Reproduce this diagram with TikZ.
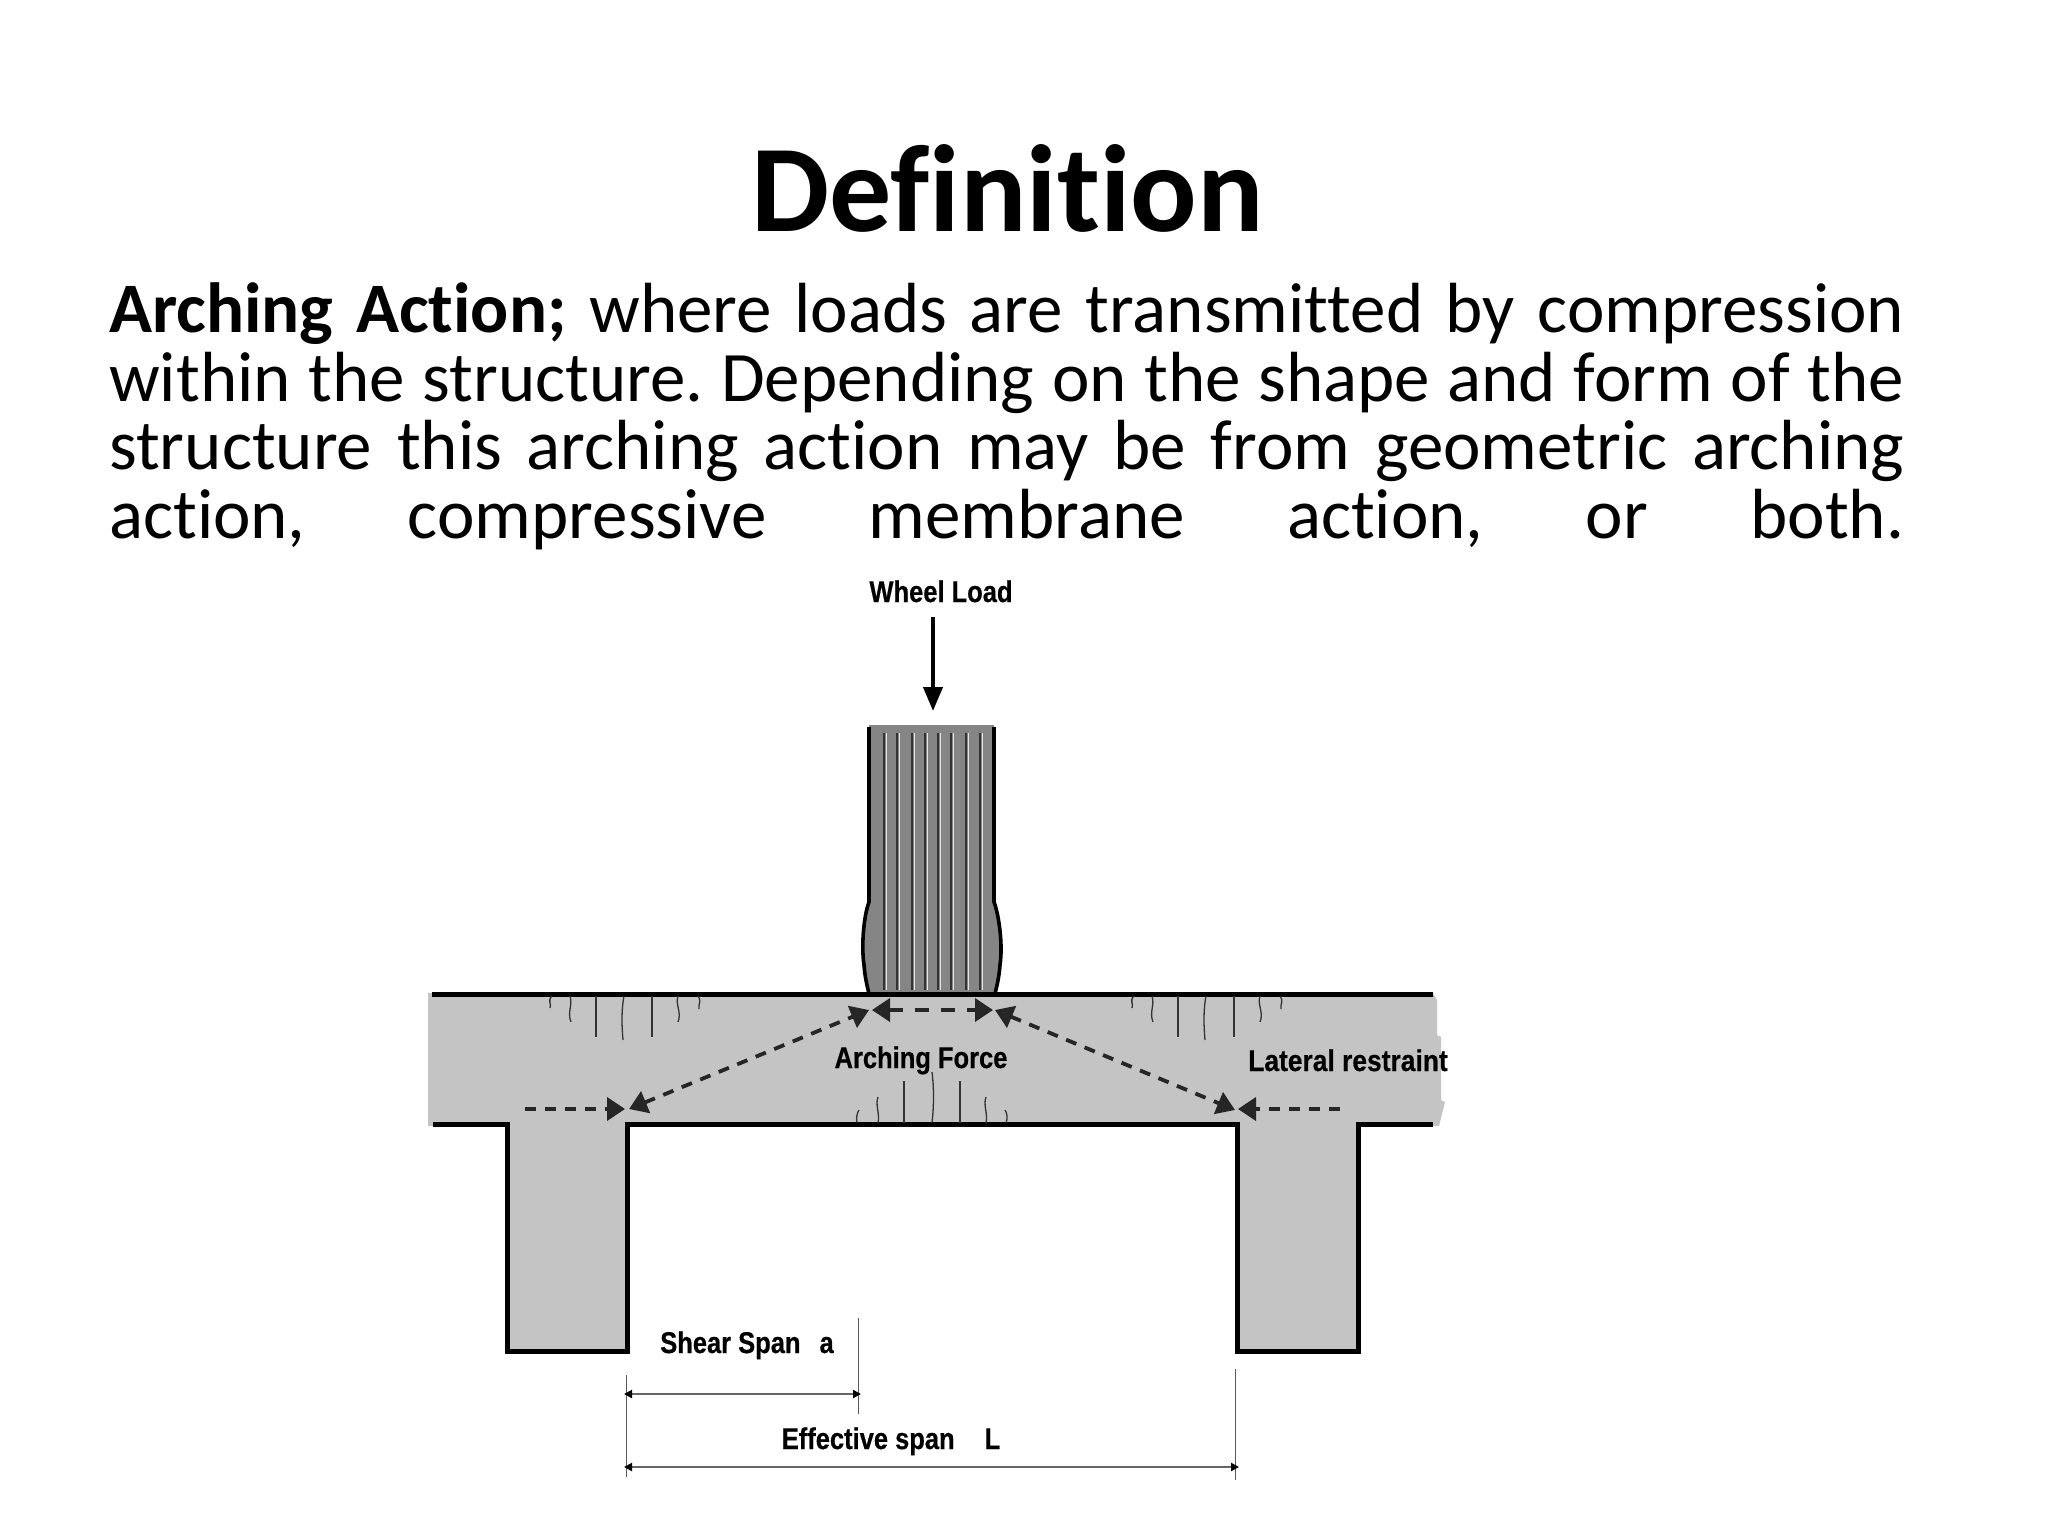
\documentclass[tikz,border=0pt]{standalone}
\usepackage{fontspec}
\setmainfont[Ligatures=NoCommon]{Carlito}
\newfontfamily\labfont[FakeStretch=0.85,BoldFeatures={FakeBold=0.5}]{Liberation Sans}
\newfontfamily\labwide[FakeStretch=0.88,BoldFeatures={FakeBold=0.5}]{Liberation Sans}
\usetikzlibrary{arrows.meta}
\tikzset{
  outline/.style={line width=5pt,draw=black,line cap=butt,line join=miter},
  force/.style={line width=3.8pt,draw=black!85,dash pattern=on 11pt off 9pt,{Triangle[length=18pt,width=23pt]}-{Triangle[length=18pt,width=23pt]}},
  forcein/.style={line width=3.8pt,draw=black!85,dash pattern=on 11pt off 9pt,-{Triangle[length=18pt,width=23pt]}},
  crack/.style={line width=1.3pt,draw=black!80},
  groove/.style={line width=1.3pt,draw=black!80},
  shine/.style={line width=.9pt,draw=white!80!gray},
  dimen/.style={line width=2pt,draw=black!60,{Triangle[length=8pt,width=8pt,black]}-{Triangle[length=8pt,width=8pt,black]}},
  witness/.style={line width=1pt,draw=black!65},
  lab/.style={font=\labfont\bfseries\fontsize{30}{32}\selectfont,inner sep=0pt,anchor=base,text=black}
}
\begin{document}
\begin{tikzpicture}[x=1pt,y=-1pt]
\useasboundingbox[fill=white] (0,0) rectangle (2048,1536);
% title and text
\node[anchor=base,inner sep=0pt,font=\bfseries\fontsize{124}{136}\selectfont] (title) at (1007.5,231) {Definition};
\node[anchor=north west,inner sep=0pt,text width=1795pt,align=justify,font=\fontsize{71}{68.7}\selectfont] (body) at (109,282.5)
 {\frenchspacing\textbf{Arching Action;} where loads are transmitted by compression\linebreak
 within the structure. Depending on the shape and form of the\linebreak
 structure this arching action may be from geometric arching\linebreak
 \makebox[\linewidth][s]{action, compressive membrane action, or both.}};
% concrete
\fill[fill=black!23] (428,993) -- (1433,993) -- (1437,1000) -- (1437,1035) -- (1441,1037) -- (1441,1100) -- (1445,1102) -- (1439,1126) -- (1358,1126) -- (1358,1351) -- (1237,1351) -- (1237,1124) -- (626,1124) -- (626,1351) -- (506,1351) -- (506,1126) -- (428,1126) -- cycle;
% tyre
\fill[fill=black!48] (869,725) -- (994,725) -- (994,902) .. controls (999,915) and (1003,945) .. (1000,965) .. controls (999,978) and (997,985) .. (995,994) -- (869,994) .. controls (867,985) and (865,978) .. (864,965) .. controls (861,945) and (864,915) .. (869,902) -- cycle;
\foreach \gx in {884,897,912,925,938,951,966,980}{
  \draw[groove] (\gx,733) -- (\gx,990);
  \draw[shine] (\gx+2.2,733) -- (\gx+2.2,990);
}
\draw[outline,line width=3.6pt] (869,727) -- (869,902) .. controls (864,915) and (861,945) .. (864,965) .. controls (865,978) and (867,985) .. (869,994);
\draw[outline,line width=3.6pt] (994,727) -- (994,902) .. controls (999,915) and (1003,945) .. (1000,965) .. controls (999,978) and (997,985) .. (995,994);
% outlines
\draw[outline] (432,994) -- (1433,994);
\draw[outline] (433,1124) -- (507,1124) -- (507,1351) -- (627,1351) -- (627,1124) -- (1237,1124) -- (1237,1351) -- (1358,1351) -- (1358,1124) -- (1433,1124);
% cracks top left and right
\foreach \ox in {0,582}{
  \draw[crack] (\ox+552,996) .. controls (\ox+547,1001) and (\ox+552,1004) .. (\ox+550,1008);
  \draw[crack] (\ox+570,996) .. controls (\ox+573,1005) and (\ox+567,1012) .. (\ox+571,1022);
  \draw[crack] (\ox+596,996) -- (\ox+596,1037);
  \draw[crack] (\ox+624,996) .. controls (\ox+621,1012) and (\ox+622,1028) .. (\ox+623,1040);
  \draw[crack] (\ox+652,996) -- (\ox+652,1037);
  \draw[crack] (\ox+678,996) .. controls (\ox+675,1005) and (\ox+682,1012) .. (\ox+678,1022);
  \draw[crack] (\ox+698,996) .. controls (\ox+702,1001) and (\ox+698,1004) .. (\ox+699,1009);
}
% cracks at soffit
\draw[crack] (857,1123) .. controls (856,1118) and (857,1113) .. (859,1110);
\draw[crack] (878,1123) .. controls (880,1113) and (875,1105) .. (878,1097);
\draw[crack] (904,1123) -- (904,1081);
\draw[crack] (932,1123) .. controls (934,1105) and (934,1088) .. (932,1072);
\draw[crack] (960,1123) -- (960,1081);
\draw[crack] (986,1123) .. controls (988,1113) and (983,1105) .. (986,1097);
\draw[crack] (1006,1123) .. controls (1008,1118) and (1007,1113) .. (1005,1110);
% force coordinates
\coordinate (archLL) at (629,1109);
\coordinate (archLU) at (869,1010);
\coordinate (archML) at (872,1010);
\coordinate (archMR) at (993,1010);
\coordinate (archRU) at (995,1010);
\coordinate (archRL) at (1235,1110);
\coordinate (latLs) at (525,1109);
\coordinate (latLe) at (625,1109);
\coordinate (latRs) at (1340,1109);
\coordinate (latRe) at (1238,1109);
\coordinate (loadS) at (933,617);
\coordinate (loadE) at (933,711);
\draw[force] (archLL) -- (archLU);
\draw[force,dash pattern=on 14pt off 12pt] (archML) -- (archMR);
\draw[force] (archRU) -- (archRL);
\draw[forcein] (latLs) -- (latLe);
\draw[forcein] (latRs) -- (latRe);
\draw[line width=4pt,draw=black,-{Triangle[length=24pt,width=19pt]}] (loadS) -- (loadE);
% labels
\node[lab] (wheel) at (941,602) {Wheel Load};
\node[lab] (arch) at (921,1068) {Arching Force};
\node[lab,font=\labwide\bfseries\fontsize{30}{32}\selectfont] (lateral) at (1348,1071) {Lateral restraint};
\node[lab] (shear) at (747,1353) {Shear Span\hspace{19pt}a};
\node[lab] (eff) at (891,1449) {Effective span\hspace{30pt}L};
% dimensions
\coordinate (wLt) at (626,1375);
\coordinate (wLb) at (626,1477);
\coordinate (wMt) at (858,1318);
\coordinate (wMb) at (858,1414);
\coordinate (wRt) at (1235,1369);
\coordinate (wRb) at (1235,1480);
\draw[witness] (wLt) -- (wLb);
\draw[witness] (wMt) -- (wMb);
\draw[witness] (wRt) -- (wRb);
\coordinate (dA1) at (624,1394);
\coordinate (dA2) at (861,1394);
\coordinate (dB1) at (624,1467);
\coordinate (dB2) at (1239,1467);
\draw[dimen] (dA1) -- (dA2);
\draw[dimen] (dB1) -- (dB2);
\end{tikzpicture}
\end{document}
